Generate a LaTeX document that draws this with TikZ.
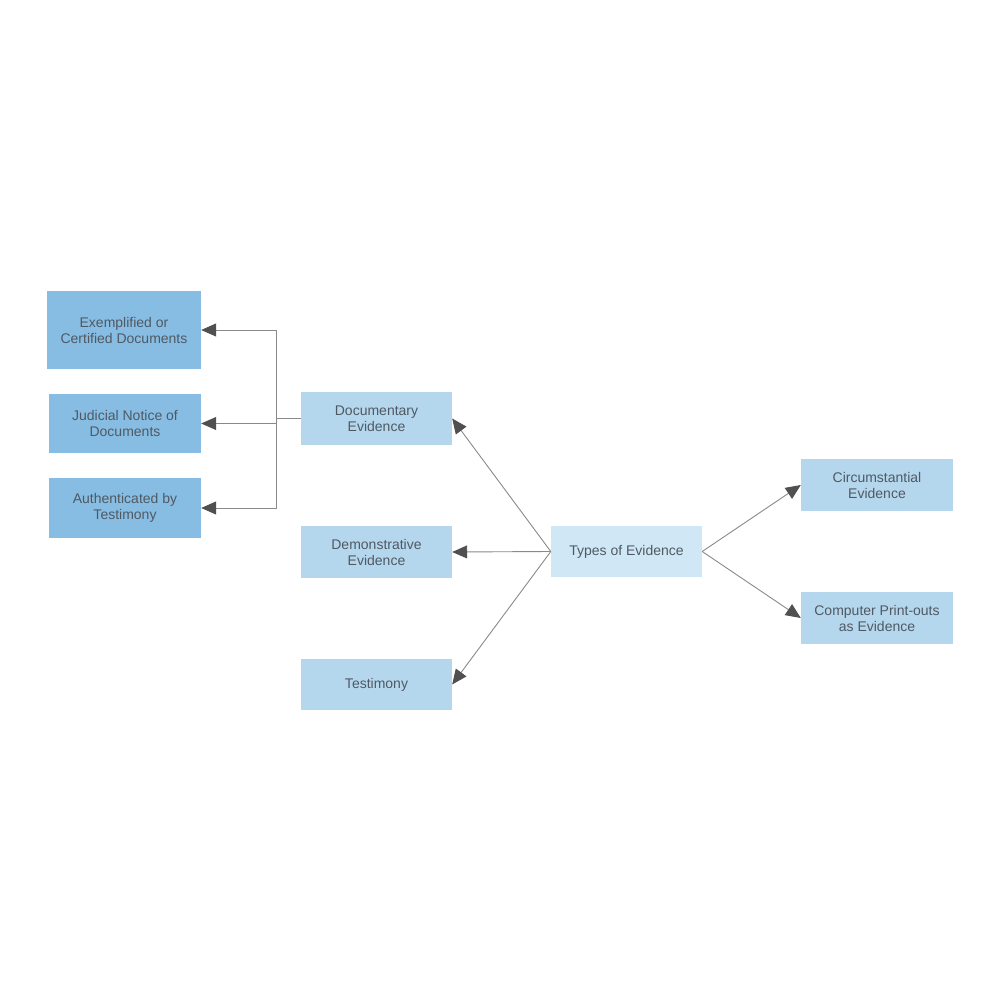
\documentclass[tikz,border=0pt]{standalone}
\usepackage{fontspec}
\setmainfont{Liberation Sans}
\usetikzlibrary{arrows.meta}
\definecolor{darkbox}{HTML}{88BDE3}
\definecolor{midbox}{HTML}{B5D7EE}
\definecolor{lightbox}{HTML}{D0E8F5}
\definecolor{txt}{HTML}{4F5963}
\definecolor{lnc}{HTML}{8A8A8A}
\definecolor{tipc}{HTML}{505050}
\begin{document}
\begin{tikzpicture}[x=1pt,y=-1pt,
  box/.style={minimum width=#1, inner sep=0pt, align=center, text=txt,
    font=\fontsize{14}{16}\selectfont},
  dark/.style={fill=darkbox},
  mid/.style={fill=midbox},
  light/.style={fill=lightbox},
  conn/.style={draw=lnc, line width=0.9pt, -{Triangle[length=15pt,width=13pt,color=tipc]}},
  plain/.style={draw=lnc, line width=0.9pt}]
\useasboundingbox (0,0) rectangle (1000,1000);
\fill[white] (0,0) rectangle (1000,1000);
% left column
\node[box=154pt, minimum height=78pt, dark] (ex) at (124,330) {Exemplified or\\Certified Documents};
\node[box=152pt, minimum height=59pt, dark] (jud) at (125,423.5) {Judicial Notice of\\Documents};
\node[box=152pt, minimum height=60pt, dark] (auth) at (125,508) {Authenticated by\\Testimony};
% middle column
\node[box=151pt, minimum height=53pt, mid] (doc) at (376.5,418.5) {Documentary\\Evidence};
\node[box=151pt, minimum height=52pt, mid] (dem) at (376.5,552) {Demonstrative\\Evidence};
\node[box=151pt, minimum height=51pt, mid] (tes) at (376.5,684.5) {Testimony};
% center
\node[box=151pt, minimum height=51pt, light] (types) at (626.5,551.5) {Types of Evidence};
% right column
\node[box=152pt, minimum height=52pt, mid] (circ) at (877,485) {Circumstantial\\Evidence};
\node[box=152pt, minimum height=52pt, mid] (comp) at (877,618) {Computer Print-outs\\as Evidence};
% connectors
\coordinate (j) at (276,418.5);
\draw[plain] (doc.west) -- (j);
\draw[conn] (j) |- (ex.east);
\draw[conn] (j) |- (jud.east);
\draw[conn] (j) |- (auth.east);
\draw[conn] (types.west) -- (doc.east);
\draw[conn] (types.west) -- (dem.east);
\draw[conn] (types.west) -- (tes.east);
\draw[conn] (types.east) -- (circ.west);
\draw[conn] (types.east) -- (comp.west);
\end{tikzpicture}
\end{document}
